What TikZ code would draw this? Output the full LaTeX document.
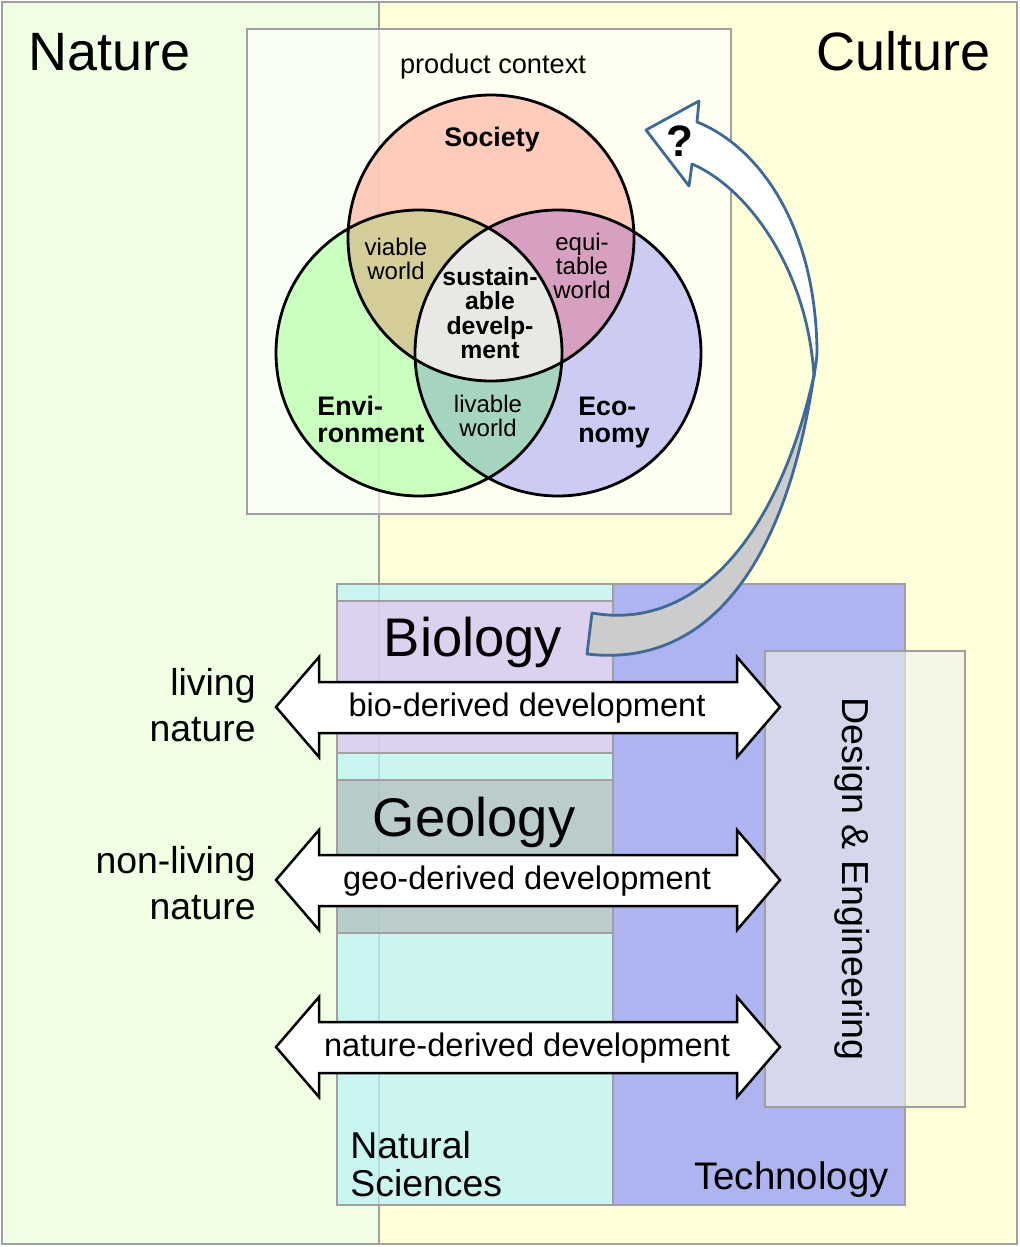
\documentclass[tikz,border=0pt]{standalone}
\usepackage{fontspec}
\setmainfont{Liberation Sans}
\definecolor{naturebg}{HTML}{F0FFE4}
\definecolor{culturebg}{HTML}{FFFFD9}
\definecolor{framegrey}{HTML}{A0A0A0}
\definecolor{sciencecol}{HTML}{BBF2F8}
\definecolor{techcol}{HTML}{AEB4F0}
\definecolor{biocol}{HTML}{E4C4F0}
\definecolor{geocol}{HTML}{B4BCBD}
\definecolor{designcol}{HTML}{F0F0EC}
\definecolor{societycol}{HTML}{FFBFAE}
\definecolor{environcol}{HTML}{BFFFB3}
\definecolor{economycol}{HTML}{BFBFF4}
\definecolor{viablecol}{HTML}{D4CC99}
\definecolor{equitcol}{HTML}{D8A0C0}
\definecolor{livablecol}{HTML}{A5D5BF}
\definecolor{sustaincol}{HTML}{EAE8E4}
\definecolor{ribbonblue}{HTML}{3F6A98}
\definecolor{ribbongrey}{HTML}{CCCCCC}
\tikzset{
  greybox/.style={draw=framegrey,line width=1.25pt},
  vennline/.style={draw=black,line width=1.4pt},
  ribbon/.style={draw=ribbonblue,line width=1.4pt,line join=round},
  devarrow/.style={draw=black,fill=white,line width=1.25pt},
  huge label/.style={inner sep=0pt,font=\fontsize{27.2}{27}\selectfont},
  big label/.style={inner sep=0pt,align=right,font=\fontsize{18.7}{23}\selectfont},
  dev label/.style={inner sep=0pt,font=\fontsize{16.3}{16.3}\selectfont},
  venn label/.style={inner sep=0pt,align=center,font=\fontsize{12}{12}\selectfont},
  venn bold/.style={inner sep=0pt,align=center,font=\bfseries\fontsize{12.4}{12.15}\selectfont},
  set label/.style={inner sep=0pt,align=left,font=\bfseries\fontsize{13.4}{13.5}\selectfont}
}
\begin{document}
\begin{tikzpicture}[x=0.5pt,y=-0.5pt]
	\useasboundingbox (0,0) rectangle (1020,1247);
	\fill[naturebg] (2,2) rectangle (379,1244);
	\fill[culturebg] (379,2) rectangle (1017,1244);
	\draw[greybox] (379,2) -- (379,1244)
	  (2,2) rectangle (1017,1244);
	\node[huge label,anchor=base west] (nature) at (28,71) {\fontsize{27}{27}\selectfont Nature};
	\node[huge label,anchor=base east] (culture) at (991,71) {\fontsize{27}{27}\selectfont Culture};
	\filldraw[greybox,fill=white,fill opacity=0.65] (247,29) rectangle (731,514);
	\node[inner sep=0pt,font=\fontsize{13.6}{13.6}\selectfont,anchor=base] (context) at (493,74) {product context};
	\fill[societycol,fill opacity=0.8] (491,238) circle[radius=143];
	\fill[environcol,fill opacity=0.8] (419,353) circle[radius=143];
	\fill[economycol,fill opacity=0.8] (558,353) circle[radius=143];
	\begin{scope}
	  \clip (491,238) circle[radius=143];
	  \fill[viablecol] (419,353) circle[radius=143];
	  \fill[equitcol] (558,353) circle[radius=143];
	\end{scope}
	\begin{scope}
	  \clip (419,353) circle[radius=143];
	  \fill[livablecol] (558,353) circle[radius=143];
	  \clip (558,353) circle[radius=143];
	  \fill[sustaincol] (491,238) circle[radius=143];
	\end{scope}
	\draw[vennline] (491,238) circle[radius=143]
	  (419,353) circle[radius=143]
	  (558,353) circle[radius=143];
	\node[set label,anchor=base] (society) at (492,147) {Society};
	\node[set label] (environment) at (371,419) {Envi-\\ronment};
	\node[set label] (economy) at (614,423) {Eco-\\nomy};
	\node[venn label] (viable) at (396,259) {viable\\world};
	\node[venn label] (equitable) at (582,266) {equi-\\table\\world};
	\node[venn label] (livable) at (488,416) {livable\\world};
	\node[venn bold] (sustain) at (490,313) {sustain-\\able\\develp-\\ment};
	\filldraw[greybox,fill=techcol] (613,584) rectangle (905,1205);
	\filldraw[greybox,fill=sciencecol,fill opacity=0.75] (337,584) rectangle (613,1205);
	\filldraw[greybox,fill=biocol,fill opacity=0.7] (337,601) rectangle (613,753);
	\filldraw[greybox,fill=geocol,fill opacity=0.7] (337,780) rectangle (613,933);
	\filldraw[greybox,fill=designcol,fill opacity=0.6] (765,651) rectangle (965,1107);
	\node[huge label,anchor=base] (biology) at (473,656) {Biology};
	\node[huge label,anchor=base] (geology) at (474,836) {Geology};
	\node[big label,anchor=west,align=left,font=\fontsize{18.7}{19}\selectfont] (sciences) at (350,1164) {Natural\\Sciences};
	\node[big label,anchor=base east,font=\fontsize{19.2}{19}\selectfont] (technology) at (889,1189) {Technology};
	\node[big label,rotate=-90,font=\fontsize{18.8}{19}\selectfont] (design) at (852,879) {Design \& Engineering};
	\node[big label,anchor=east] (living) at (256,705) {living\\nature};
	\node[big label,anchor=east] (nonliving) at (256,883) {non-living\\nature};
	\foreach \arrowname/\ypos/\arrowtext in {bioarrow/707/bio-derived development,
	    geoarrow/880/geo-derived development,natarrow/1047/nature-derived development}{
	  \draw[devarrow] (276,\ypos) -- (319,{\ypos-50}) -- (319,{\ypos-25}) -- (737,{\ypos-25})
	    -- (737,{\ypos-50}) -- (780,\ypos) -- (737,{\ypos+50}) -- (737,{\ypos+26})
	    -- (319,{\ypos+26}) -- (319,{\ypos+50}) -- cycle;
	  \node[dev label] (\arrowname) at (527,{\ypos+1}) {\arrowtext};
	}
	\filldraw[ribbon,fill=ribbongrey] (587,654)
	  .. controls (705,668) and (785,570) .. (814,375)
	  .. controls (780,530) and (700,632) .. (592,613) -- cycle;
	\filldraw[ribbon,fill=white] (646,130) -- (699,101) -- (697,122)
	  .. controls (755,145) and (815,220) .. (817,350)
	  .. controls (817,360) and (815,368) .. (814,377)
	  .. controls (808,270) and (748,188) .. (692,164)
	  -- (689,186) -- cycle;
	\node[inner sep=0pt,font=\bfseries\fontsize{22}{22}\selectfont] (question) at (680,141) {?};
\end{tikzpicture}
\end{document}
